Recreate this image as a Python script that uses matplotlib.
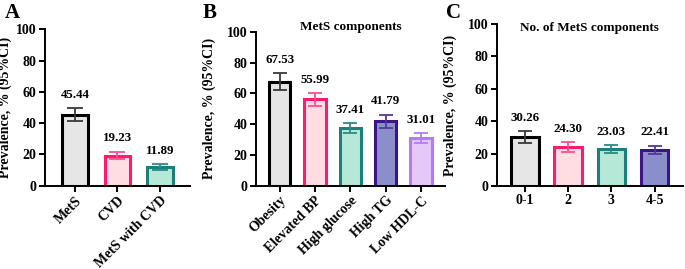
import matplotlib.pyplot as plt
import numpy as np

plt.rcParams['font.family'] = ['Liberation Serif', 'DejaVu Serif']
plt.rcParams['font.weight'] = 'bold'

# panel A
a_labels = ["MetS", "CVD", "MetS with CVD"]
a_values = [45.44, 19.23, 11.89]
a_low = [41.3, 16.8, 10.0]
a_high = [49.4, 21.8, 13.9]

# panel B
b_labels = ["Obesity", "Elevated BP", "High glucose", "High TG", "Low HDL-C"]
b_values = [67.53, 55.99, 37.41, 41.79, 31.01]
b_low = [62.0, 51.6, 33.9, 37.4, 27.6]
b_high = [73.0, 60.3, 40.8, 46.2, 34.4]

# panel C
c_labels = ["0-1", "2", "3", "4-5"]
c_values = [30.26, 24.30, 23.03, 22.41]
c_low = [26.7, 20.8, 20.2, 19.6]
c_high = [33.8, 26.9, 25.4, 24.9]

fills = ["#e6e6e6", "#ffdde3", "#b6e8d7", "#8a8fcc", "#e6c8f8"]
edges = ["#000000", "#ff1a6e", "#1d7f7a", "#3a1585", "#b27cf8"]
errc = ["#3a3a3a", "#ff4d8d", "#2a8a85", "#55389a", "#b57cf5"]

W, H = 685, 269
fig = plt.figure(figsize=(W / 100, H / 100), dpi=100)


def px_axes(left, top, right, bottom):
    return fig.add_axes([left / W, 1 - bottom / H, (right - left) / W, (bottom - top) / H])


def draw(ax, labels, values, low, high, width, pad, capsize, rot, title=None, title_y=0.95):
    x = np.arange(len(values))
    for i in range(len(values)):
        ax.bar(x[i], values[i], width=width, color=fills[i], edgecolor=edges[i],
               linewidth=2.2, zorder=2)
        ax.errorbar(x[i], values[i], yerr=[[values[i] - low[i]], [high[i] - values[i]]],
                    fmt='none', ecolor=errc[i], elinewidth=1.3, capsize=capsize,
                    capthick=1.3, zorder=3)
        ax.annotate(f"{values[i]:.2f}", (x[i], high[i]), xytext=(0, 9.5),
                    textcoords='offset points', ha='center', va='center',
                    fontsize=9.3, fontweight='bold')
    ax.set_xlim(-pad, len(values) - 1 + pad)
    ax.set_ylim(0, 100)
    ax.set_yticks(range(0, 101, 20))
    ax.set_xticks(x)
    if rot:
        ax.set_xticklabels(labels, rotation=45, ha='right', rotation_mode='anchor')
    else:
        ax.set_xticklabels(labels)
    for s in ['top', 'right']:
        ax.spines[s].set_visible(False)
    for s in ['left', 'bottom']:
        ax.spines[s].set_linewidth(1.4)
    ax.tick_params(width=1.4, length=4, labelsize=10, pad=2)
    ax.set_ylabel("Prevalence, % (95%CI)", fontsize=10, fontweight='bold')
    if title:
        ax.text(0.5, title_y, title, transform=ax.transAxes, ha='center', va='center',
                fontsize=9.5, fontweight='bold', clip_on=False)


axA = px_axes(45, 29.3, 190, 185.7)
draw(axA, a_labels, a_values, a_low, a_high, 0.6, 0.7, 5.5, True)
axA.yaxis.set_label_coords(-33 / 145, 0.5)

axB = px_axes(255.7, 31.7, 445, 185.7)
draw(axB, b_labels, b_values, b_low, b_high, 0.6, 0.68, 5, True, "MetS components", 1.03)
axB.yaxis.set_label_coords(-40 / 189.3, 0.5)

axC = px_axes(496.7, 24, 683, 186)
draw(axC, c_labels, c_values, c_low, c_high, 0.64, 0.66, 5, False,
     "No. of MetS components", 0.975)
axC.yaxis.set_label_coords(-40 / 186.3, 0.5)

for lab, xp in [("A", 5), ("B", 203), ("C", 446)]:
    fig.text(xp / W, 1 - 3 / H, lab, ha='left', va='top', fontsize=15, fontweight='bold')

fig.savefig("out.png", dpi=100)
